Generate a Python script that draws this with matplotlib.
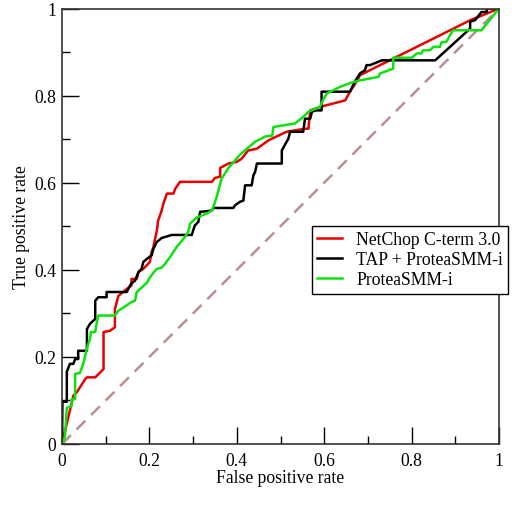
import matplotlib
matplotlib.use("Agg")
import matplotlib.pyplot as plt
from matplotlib.ticker import MultipleLocator

plt.rcParams['font.family'] = ['Liberation Serif', 'DejaVu Serif']

# ROC curves (false positive rate, true positive rate)
netchop_fpr = [0, 0.026, 0.034, 0.053, 0.057, 0.076, 0.095, 0.095, 0.110, 0.121, 0.121,
               0.129, 0.148, 0.159, 0.159, 0.171, 0.175, 0.186, 0.201, 0.205, 0.209,
               0.217, 0.220, 0.228, 0.232, 0.240, 0.255, 0.259, 0.270, 0.343, 0.350,
               0.362, 0.362, 0.381, 0.400, 0.411, 0.426, 0.446, 0.472, 0.514, 0.556,
               0.564, 0.568, 0.590, 0.648, 0.659, 0.674, 0.682, 0.934, 1.0]
netchop_tpr = [0, 0.111, 0.119, 0.149, 0.153, 0.153, 0.172, 0.257, 0.260, 0.268, 0.310,
               0.340, 0.356, 0.364, 0.379, 0.379, 0.395, 0.402, 0.418, 0.441, 0.452,
               0.490, 0.513, 0.536, 0.552, 0.575, 0.575, 0.586, 0.602, 0.602, 0.611,
               0.614, 0.634, 0.644, 0.648, 0.655, 0.674, 0.678, 0.697, 0.717, 0.724,
               0.724, 0.766, 0.774, 0.789, 0.809, 0.832, 0.847, 0.973, 1.0]

tap_fpr = [0, 0.001, 0.011, 0.011, 0.018, 0.026, 0.030, 0.037, 0.037, 0.057, 0.057,
           0.064, 0.076, 0.076, 0.083, 0.102, 0.102, 0.148, 0.158, 0.167, 0.175,
           0.182, 0.186, 0.194, 0.205, 0.209, 0.217, 0.228, 0.251, 0.297, 0.300,
           0.304, 0.312, 0.316, 0.343, 0.346, 0.392, 0.396, 0.407, 0.415, 0.419,
           0.434, 0.438, 0.442, 0.446, 0.503, 0.503, 0.514, 0.518, 0.522, 0.552,
           0.556, 0.568, 0.572, 0.581, 0.594, 0.594, 0.659, 0.670, 0.682, 0.693,
           0.697, 0.705, 0.732, 0.854, 0.934, 0.934, 0.945, 0.960, 0.972, 0.972, 1.0]
tap_tpr = [0, 0.097, 0.097, 0.166, 0.184, 0.184, 0.195, 0.195, 0.214, 0.214, 0.264,
           0.276, 0.287, 0.329, 0.337, 0.337, 0.349, 0.349, 0.368, 0.375, 0.395,
           0.402, 0.418, 0.425, 0.433, 0.448, 0.464, 0.473, 0.480, 0.480, 0.490,
           0.502, 0.510, 0.533, 0.536, 0.542, 0.542, 0.548, 0.556, 0.559, 0.594,
           0.594, 0.617, 0.625, 0.644, 0.644, 0.674, 0.694, 0.701, 0.717, 0.717,
           0.747, 0.747, 0.763, 0.766, 0.766, 0.809, 0.809, 0.832, 0.851, 0.858,
           0.870, 0.870, 0.881, 0.881, 0.954, 0.970, 0.973, 0.992, 0.992, 1.0, 1.0]

smm_fpr = [0, 0.003, 0.007, 0.011, 0.022, 0.022, 0.030, 0.030, 0.041, 0.049, 0.057,
           0.060, 0.064, 0.066, 0.076, 0.079, 0.083, 0.121, 0.129, 0.140, 0.159,
           0.167, 0.171, 0.194, 0.201, 0.209, 0.217, 0.228, 0.236, 0.247, 0.262,
           0.281, 0.289, 0.293, 0.308, 0.331, 0.343, 0.348, 0.354, 0.365, 0.381,
           0.407, 0.423, 0.442, 0.465, 0.481, 0.484, 0.533, 0.552, 0.564, 0.590,
           0.598, 0.606, 0.636, 0.663, 0.682, 0.724, 0.728, 0.758, 0.758, 0.801,
           0.812, 0.823, 0.826, 0.842, 0.850, 0.865, 0.869, 0.879, 0.884, 0.888,
           0.895, 0.960, 1.0]
smm_tpr = [0, 0.004, 0.019, 0.083, 0.087, 0.103, 0.103, 0.161, 0.163, 0.186, 0.218,
           0.230, 0.241, 0.257, 0.257, 0.276, 0.295, 0.295, 0.306, 0.313, 0.326,
           0.329, 0.349, 0.370, 0.382, 0.393, 0.402, 0.405, 0.414, 0.429, 0.452,
           0.475, 0.487, 0.506, 0.520, 0.529, 0.536, 0.549, 0.568, 0.609, 0.634,
           0.664, 0.678, 0.694, 0.706, 0.708, 0.728, 0.736, 0.751, 0.763, 0.774,
           0.791, 0.805, 0.820, 0.830, 0.835, 0.843, 0.851, 0.862, 0.887, 0.887,
           0.897, 0.897, 0.904, 0.904, 0.912, 0.912, 0.923, 0.923, 0.931, 0.939,
           0.950, 0.950, 1.0]

labels = ["NetChop C-term 3.0", "TAP + ProteaSMM-i", "ProteaSMM-i"]

fig = plt.figure(figsize=(5.31, 5.06), dpi=100)
ax = fig.add_axes([0.1168, 0.1206, 0.8229, 0.8606])

ax.plot([0, 1], [0, 1], color='#b89090', lw=1.8, dashes=(5, 3.2))
ax.plot(netchop_fpr, netchop_tpr, color='#e80000', lw=1.8, label=labels[0])
ax.plot(tap_fpr, tap_tpr, color='#000000', lw=1.8, label=labels[1])
ax.plot(smm_fpr, smm_tpr, color='#10e010', lw=1.8, label=labels[2])

ax.set_xlim(0, 1)
ax.set_ylim(0, 1)
ax.xaxis.set_major_locator(MultipleLocator(0.2))
ax.xaxis.set_minor_locator(MultipleLocator(0.1))
ax.yaxis.set_major_locator(MultipleLocator(0.2))
ax.yaxis.set_minor_locator(MultipleLocator(0.1))
ax.xaxis.set_major_formatter(lambda v, p: f"{v:g}")
ax.yaxis.set_major_formatter(lambda v, p: f"{v:g}")
ax.tick_params(which='major', direction='in', length=12, width=1, labelsize=12.7)
ax.tick_params(axis='x', which='major', pad=6)
ax.tick_params(axis='y', which='major', pad=4)
ax.tick_params(which='minor', direction='in', length=6, width=1)
for s in ax.spines.values():
    s.set_linewidth(1.2)
    s.set_color('#333333')

ax.set_xlabel("False positive rate", fontsize=12.7, labelpad=0)
ax.set_ylabel("True positive rate", fontsize=12.7, labelpad=3)

leg = ax.legend(loc='upper left', bbox_to_anchor=(312 / 531, 1 - 227 / 506),
                bbox_transform=fig.transFigure, borderaxespad=0, fontsize=12.7,
                frameon=True, fancybox=False, edgecolor='black', framealpha=1,
                handlelength=1.4, handletextpad=0.8, labelspacing=0.17, borderpad=0.3)
leg.get_frame().set_linewidth(1.0)

fig.savefig("out.png", dpi=100)
